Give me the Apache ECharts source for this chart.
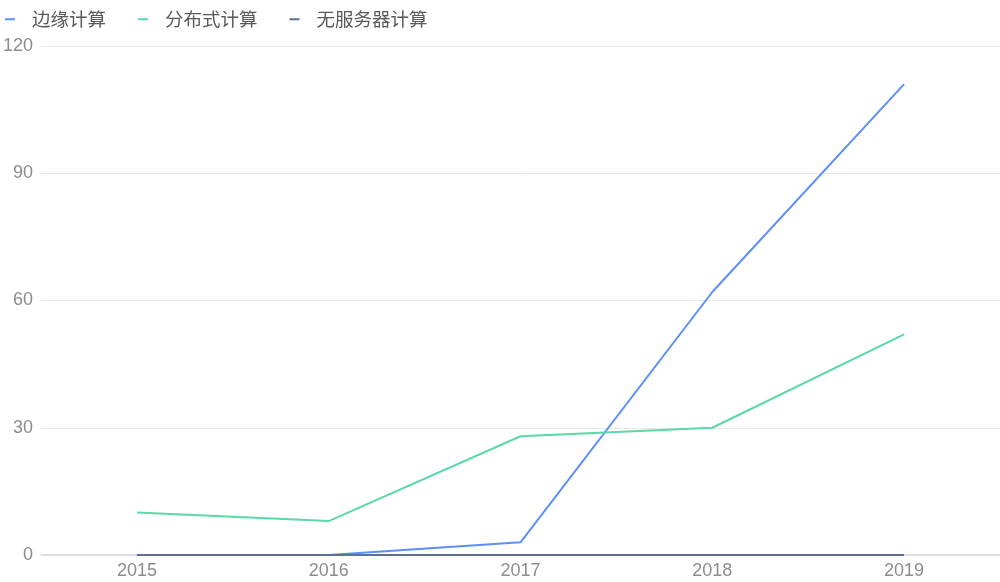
<!DOCTYPE html>
<html>
<head>
<meta charset="utf-8">
<script src="https://cdn.jsdelivr.net/npm/echarts@6/dist/echarts.min.js"></script>
<style>
  html, body { margin: 0; padding: 0; background: #fff; }
  #chart { width: 1000px; height: 582px; }
</style>
</head>
<body>
<div id="chart"></div>
<script>
const years = ["2015", "2016", "2017", "2018", "2019"];
const edge = [0, 0, 3, 62, 111];
const distributed = [10, 8, 28, 30, 52];
const serverless = [0, 0, 0, 0, 0];
const seriesNames = ["边缘计算", "分布式计算", "无服务器计算"];

const chart = echarts.init(document.getElementById("chart"));

const cjkFont = '"Noto Sans CJK SC", "Noto Sans", sans-serif';
const numFont = '"Liberation Sans", Arial, sans-serif';

chart.setOption({
  animation: false,
  color: ["#5B8FF9", "#5AD8A6", "#5D7092"],
  textStyle: { fontFamily: cjkFont },
  legend: {
    data: seriesNames,
    left: 0,
    top: 5,
    icon: "rect",
    itemWidth: 10,
    itemHeight: 2,
    itemGap: 32,
    textStyle: {
      fontSize: 18.5,
      color: "#595959",
      fontFamily: cjkFont,
      padding: [0, 0, 0, 12]
    }
  },
  grid: { left: 40, right: 0, top: 46, bottom: 27 },
  xAxis: {
    type: "category",
    data: years,
    boundaryGap: true,
    axisLine: { lineStyle: { color: "#d9d9d9", width: 1.5 } },
    axisTick: { alignWithLabel: true, lineStyle: { color: "#d9d9d9" }, length: 4 },
    axisLabel: { fontSize: 18, color: "#8c8c8c", margin: 7, fontFamily: numFont }
  },
  yAxis: {
    type: "value",
    min: 0,
    max: 120,
    interval: 30,
    axisLine: { show: false },
    axisTick: { show: false },
    splitLine: { lineStyle: { color: "#e8e8e8" } },
    axisLabel: { fontSize: 18, color: "#8c8c8c", margin: 8, fontFamily: numFont }
  },
  series: [
    { name: seriesNames[0], type: "line", data: edge, showSymbol: false, lineStyle: { width: 2 } },
    { name: seriesNames[1], type: "line", data: distributed, showSymbol: false, lineStyle: { width: 2 } },
    { name: seriesNames[2], type: "line", data: serverless, showSymbol: false, lineStyle: { width: 2 } }
  ]
});
</script>
</body>
</html>
